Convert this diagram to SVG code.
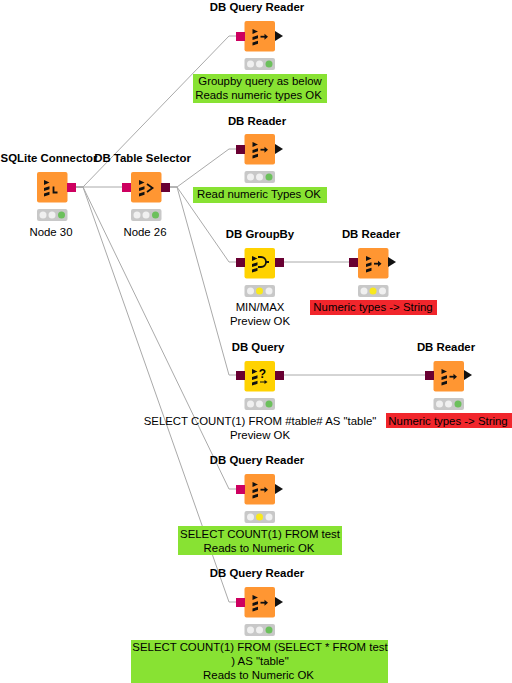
<svg xmlns="http://www.w3.org/2000/svg" width="512" height="683" viewBox="0 0 512 683">
<style>
text{font-family:"Liberation Sans",Arial,sans-serif;font-size:11.4px;fill:#000;text-anchor:middle}
.t{font-weight:bold}
.c{fill:none;stroke:#aaa;stroke-width:1}
.o{fill:#ff9632}.y{fill:#ffd200}
.pr{fill:#cd0060}.pd{fill:#690032}
.g{stroke:#111;stroke-width:1.800;fill:none}
.k{fill:#111}
.lb{fill:#c8c8c8}.lo{fill:#f0f0f0}.lg{fill:#6cc05c}.ly{fill:#f8e81c}
.gr{fill:#88e233}.rd{fill:#f1262c}
</style>
<defs>
<g id="ico">
<path class="k" d="M8 8l5.500 2.500-5.500 2.500zM8 16l5.500-1.700v3l-5.500 1.700zM8 21.500l5.500-1.700v3l-5.500 1.700z"/>
</g>
<g id="arr"><path class="g" d="M16 15.700h5"/><path class="k" d="M20 12.700l3.500 3-3.500 3z"/></g>
<path id="out" class="k" d="M0 0l8 5-8 5z"/>
<g id="lg"><rect class="lb" width="30.500" height="12" rx="2"/><circle class="lo" cx="6" cy="6" r="3.500"/><circle class="lo" cx="15" cy="6" r="3.500"/><circle class="lg" cx="24.500" cy="6" r="3.500"/></g>
<g id="ly"><rect class="lb" width="30.500" height="12" rx="2"/><circle class="lo" cx="6" cy="6" r="3.500"/><circle class="ly" cx="15" cy="6" r="3.500"/><circle class="lo" cx="24.500" cy="6" r="3.500"/></g>
<g id="reader"><rect class="o" width="30.500" height="30.500" rx="2"/><use href="#ico"/><use href="#arr"/></g>
</defs>
<g id="connectors">
<path class="c" d="M76 187H83L229 36H236"/>
<path class="c" d="M76 187H122"/>
<path class="c" d="M76 187H83L229 489H236"/>
<path class="c" d="M76 187H83L229 602H236"/>
<path class="c" d="M170 187H177L229 149H236"/>
<path class="c" d="M170 187H177L229 262H236"/>
<path class="c" d="M170 187H177L229 375H236"/>
<path class="c" d="M284 262H349"/>
<path class="c" d="M284 375H425"/>
</g>
<g id="node30">
<rect class="o" x="37" y="172" width="30.500" height="30.500" rx="2"/>
<use href="#ico" x="36" y="172"/>
<path class="g" d="M53.500 186.500v6h4"/>
<rect class="pr" x="67" y="183" width="9" height="9"/>
<use href="#lg" x="37" y="209"/>
<text class="t" x="49" y="162">SQLite Connector</text>
<text x="51" y="236">Node 30</text>
</g>
<g id="node26">
<rect class="o" x="131" y="172" width="30.500" height="30.500" rx="2"/>
<use href="#ico" x="131" y="172"/>
<path class="g" d="M147 184l5.500 4-5.500 4"/>
<rect class="pr" x="122" y="183" width="9" height="9"/>
<rect class="pd" x="161" y="183" width="9" height="9"/>
<use href="#lg" x="131" y="209"/>
<text class="t" x="142.500" y="162">DB Table Selector</text>
<text x="145" y="236">Node 26</text>
</g>
<g id="qreader1">
<use href="#reader" x="244.500" y="21"/>
<rect class="pr" x="236" y="32" width="9" height="9"/>
<use href="#out" x="275" y="31"/>
<use href="#lg" x="244.500" y="58"/>
<text class="t" x="257" y="11">DB Query Reader</text>
<rect class="gr" x="193" y="74" width="134" height="29"/>
<text x="260" y="85">Groupby query as below</text>
<text x="258.500" y="99">Reads numeric types OK</text>
</g>
<g id="reader2">
<use href="#reader" x="244.500" y="134"/>
<rect class="pd" x="236" y="145" width="9" height="9"/>
<use href="#out" x="275" y="144"/>
<use href="#lg" x="244.500" y="171"/>
<text class="t" x="257" y="125">DB Reader</text>
<rect class="gr" x="193" y="187" width="134" height="16"/>
<text x="259" y="198">Read numeric Types OK</text>
</g>
<g id="groupby">
<rect class="y" x="244.500" y="248" width="30.500" height="30.500" rx="2"/>
<use href="#ico" x="244" y="248"/>
<path class="g" d="M258 257h3a5 5 0 0 1 0 10h-3M266 262h3"/>
<rect class="pd" x="236" y="258" width="9" height="9"/>
<rect class="pd" x="275" y="258" width="9" height="9"/>
<use href="#ly" x="244.500" y="285"/>
<text class="t" x="260" y="238">DB GroupBy</text>
<text x="260" y="311">MIN/MAX</text>
<text x="260" y="325">Preview OK</text>
</g>
<g id="reader3">
<use href="#reader" x="358" y="248"/>
<rect class="pd" x="349" y="258" width="9" height="9"/>
<use href="#out" x="388" y="257"/>
<use href="#ly" x="358" y="285"/>
<text class="t" x="371" y="238">DB Reader</text>
<rect class="rd" x="310" y="300" width="127" height="15"/>
<text x="373" y="311">Numeric types -&gt; String</text>
</g>
<g id="dbquery">
<rect class="y" x="244.500" y="361" width="30.500" height="30.500" rx="2"/>
<use href="#ico" x="244" y="361"/>
<text class="t" x="262.500" y="378" style="font-size:12px">?</text>
<path class="g" d="M260 382h5" style="stroke-width:1"/><path class="k" d="M264.500 380l3 2-3 2z"/>
<rect class="pd" x="236" y="371" width="9" height="9"/>
<rect class="pd" x="275" y="371" width="9" height="9"/>
<use href="#lg" x="244.500" y="398"/>
<text class="t" x="258" y="351">DB Query</text>
<text x="260" y="425">SELECT COUNT(1) FROM #table# AS "table"</text>
<text x="260" y="439">Preview OK</text>
</g>
<g id="reader4">
<use href="#reader" x="433.500" y="361"/>
<rect class="pd" x="425" y="371" width="9" height="9"/>
<use href="#out" x="464" y="370"/>
<use href="#lg" x="433.500" y="398"/>
<text class="t" x="446" y="351">DB Reader</text>
<rect class="rd" x="386" y="413" width="126" height="15"/>
<text x="448" y="425">Numeric types -&gt; String</text>
</g>
<g id="qreader5">
<use href="#reader" x="244.500" y="474"/>
<rect class="pr" x="236" y="485" width="9" height="9"/>
<use href="#out" x="275" y="484"/>
<use href="#ly" x="244.500" y="511"/>
<text class="t" x="257" y="464">DB Query Reader</text>
<rect class="gr" x="178" y="526" width="164" height="29"/>
<text x="260" y="538">SELECT COUNT(1) FROM test</text>
<text x="259" y="552">Reads to Numeric OK</text>
</g>
<g id="qreader6">
<use href="#reader" x="244.500" y="587"/>
<rect class="pr" x="236" y="598" width="9" height="9"/>
<use href="#out" x="275" y="597"/>
<use href="#lg" x="244.500" y="624"/>
<text class="t" x="257" y="577">DB Query Reader</text>
<rect class="gr" x="131" y="640" width="257" height="43"/>
<text x="260" y="651">SELECT COUNT(1) FROM (SELECT * FROM test</text>
<text x="260" y="665">) AS "table"</text>
<text x="258.500" y="679">Reads to Numeric OK</text>
</g>
</svg>
